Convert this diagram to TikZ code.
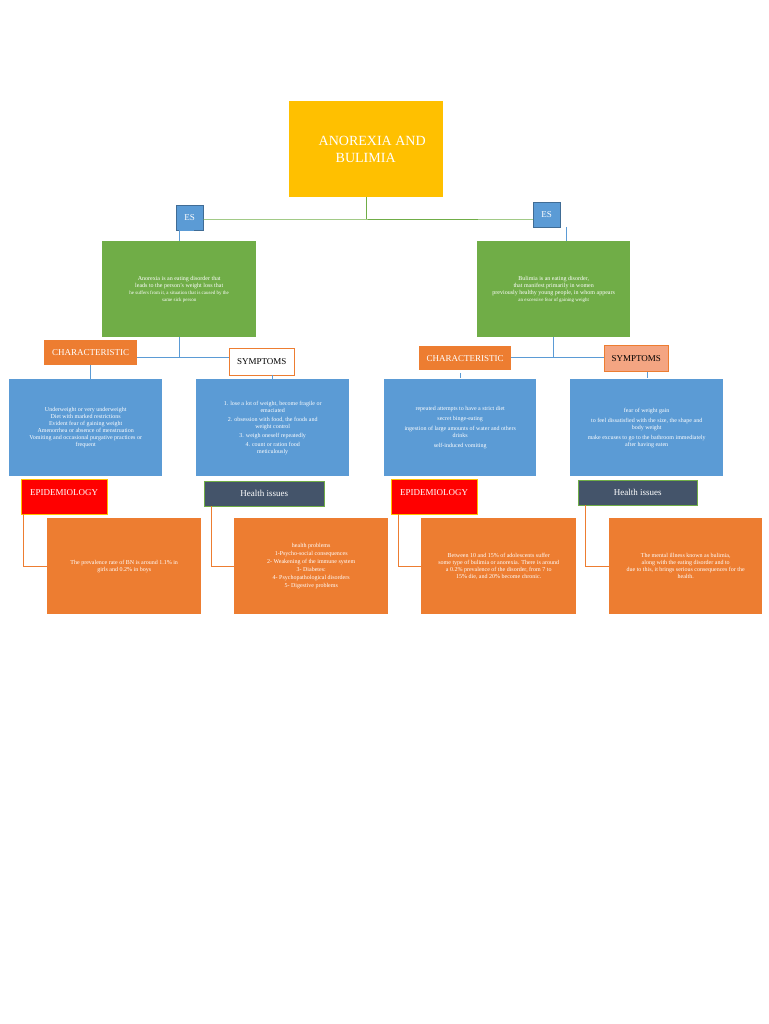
\documentclass[tikz,border=0pt]{standalone}
\usepackage{fontspec}
\setmainfont{Liberation Serif}
\usetikzlibrary{positioning}
\definecolor{gold}{HTML}{FFC000}
\definecolor{leaf}{HTML}{70AD47}
\definecolor{sky}{HTML}{5B9BD5}
\definecolor{carrot}{HTML}{ED7D31}
\definecolor{slate}{HTML}{44546A}
\definecolor{salmon}{HTML}{F4A582}
\tikzset{
  box/.style={rectangle, anchor=north west, inner sep=1pt, align=center, text=white,
    font=\fontsize{6}{7}\selectfont},
  head/.style={rectangle, anchor=north west, inner sep=2pt, text=white,
    font=\fontsize{9}{10}\selectfont},
  link/.style={line width=0.6pt}
}
\begin{document}
\begin{tikzpicture}[x=1pt,y=-1pt]
\useasboundingbox (0,0) rectangle (768,1024);
% top
\node[box, fill=gold, minimum width=154, minimum height=96, align=left,
    font=\fontsize{14}{17}\selectfont] (title) at (289,101)
    {\hspace*{12pt}ANOREXIA AND\\\hspace*{29pt}BULIMIA};
\node[head, fill=sky, draw=sky!70!black, minimum width=27, minimum height=25,
    inner sep=0pt] (esA) at (176,205) {ES};
\node[head, fill=sky, draw=sky!70!black, minimum width=27, minimum height=25,
    inner sep=0pt] (esB) at (533,202) {ES};
\node[box, fill=leaf, minimum width=154, minimum height=96] (defA) at (102,241)
  {Anorexia is an eating disorder that\\leads to the person's weight loss that\\
   {\fontsize{5}{6}\selectfont he suffers from it, a situation that is caused by the}\\
   {\fontsize{5}{6}\selectfont same sick person}};
\node[box, fill=leaf, minimum width=153, minimum height=96] (defB) at (477,241)
  {Bulimia is an eating disorder,\\that manifest primarily in women\\
   previously healthy young people, in whom appears\\
   {\fontsize{5}{6}\selectfont an excessive fear of gaining weight}};
\draw[link, leaf] (title.south) -- ++(0,22) coordinate (fork);
\draw[link, leaf] (esA.east) ++(0,2) -- (esB.west |- fork);
\draw[link, sky] (esA.south) ++(4,0) -- (esA.south -| defA.north) -- (defA.north);
\draw[link, sky] (esB.south) ++(20,0) -- ++(0,14);
% anorexia branch
\node[head, fill=carrot, minimum width=93, minimum height=25] (charA) at (44,340) {CHARACTERISTIC};
\node[head, fill=white, draw=carrot, text=black, minimum width=65, minimum height=27] (sympA) at (229,348) {SYMPTOMS};
\draw[link, sky] (defA.south) -- ++(0,20) coordinate (forkA);
\draw[link, sky] (charA.east |- forkA) -- (sympA.west |- forkA);
\node[box, fill=sky, minimum width=153, minimum height=97] (listA) at (9,379)
  {Underweight or very underweight\\Diet with marked restrictions\\Evident fear of gaining weight\\
   Amenorrhea or absence of menstruation\\Vomiting and occasional purgative practices or\\frequent};
\node[box, fill=sky, minimum width=153, minimum height=97] (listB) at (196,379)
  {1. lose a lot of weight, become fragile or\\emaciated\\[2pt]
   2. obsession with food, the foods and\\weight control\\[2pt]
   3. weigh oneself repeatedly\\[2pt]4. count or ration food\\meticulously};
\draw[link, sky] (charA.south) -- (charA.south |- listA.north);
\draw[link, sky] (sympA.south) ++(11,0) -- ++(0,4);
\node[head, fill=red, draw=gold, minimum width=86, minimum height=35, anchor=north west,
    inner sep=3pt] (epiA) at (21,479) {\raisebox{8pt}{EPIDEMIOLOGY}};
\node[head, fill=slate, draw=leaf, minimum width=120, minimum height=25] (hlthA) at (204,481) {Health issues};
\node[box, fill=carrot, minimum width=154, minimum height=96] (factA) at (47,518)
  {The prevalence rate of BN is around 1.1\% in\\girls and 0.2\% in boys};
\node[box, fill=carrot, minimum width=154, minimum height=96] (factB) at (234,518)
  {health problems\\[1pt]1-Psycho-social consequences\\[1pt]2- Weakening of the immune system\\[1pt]
   3- Diabetes:\\[1pt]4- Psychopathological disorders\\[1pt]5- Digestive problems};
\draw[link, carrot] (epiA.south west) ++(2,0) |- (factA.west);
\draw[link, carrot] (hlthA.south west) ++(7,0) |- (factB.west);
% bulimia branch
\node[head, fill=carrot, minimum width=92, minimum height=24] (charB) at (419,346) {CHARACTERISTIC};
\node[head, fill=salmon, draw=carrot, text=black, minimum width=64, minimum height=26] (sympB) at (604,345) {SYMPTOMS};
\draw[link, sky] (defB.south) -- ++(0,20) coordinate (forkB);
\draw[link, sky] (charB.east |- forkB) -- (sympB.west |- forkB);
\node[box, fill=sky, minimum width=152, minimum height=97] (listC) at (384,379)
  {repeated attempts to have a strict diet\\[3pt]secret binge-eating\\[3pt]
   ingestion of large amounts of water and others\\drinks\\[3pt]self-induced vomiting};
\node[box, fill=sky, minimum width=153, minimum height=97] (listD) at (570,379)
  {fear of weight gain\\[3pt]to feel dissatisfied with the size, the shape and\\body weight\\[3pt]
   make excuses to go to the bathroom immediately\\after having eaten};
\draw[link, sky] (charB.south) ++(-5,3) -- ++(0,5);
\draw[link, sky] (sympB.south) ++(11,1) -- ++(0,6);
\node[head, fill=red, draw=gold, minimum width=86, minimum height=35,
    inner sep=3pt] (epiB) at (391,479) {\raisebox{8pt}{EPIDEMIOLOGY}};
\node[head, fill=slate, draw=leaf, minimum width=119, minimum height=25] (hlthB) at (578,480) {Health issues};
\node[box, fill=carrot, minimum width=155, minimum height=96] (factC) at (421,518)
  {Between 10 and 15\% of adolescents suffer\\some type of bulimia or anorexia. There is around\\
   a 0.2\% prevalence of the disorder, from 7 to\\15\% die, and 20\% become chronic.};
\node[box, fill=carrot, minimum width=153, minimum height=96] (factD) at (609,518)
  {The mental illness known as bulimia,\\along with the eating disorder and to\\
   due to this, it brings serious consequences for the\\health.};
\draw[link, carrot] (epiB.south west) ++(7,0) |- (factC.west);
\draw[link, carrot] (hlthB.south west) ++(7,0) |- (factD.west);
\end{tikzpicture}
\end{document}
